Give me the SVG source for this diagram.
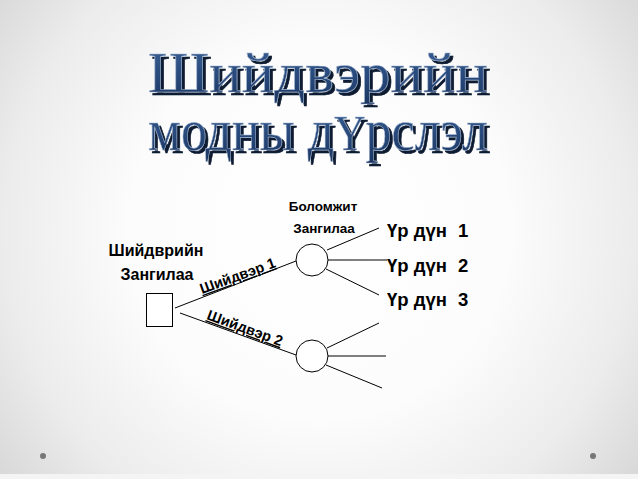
<svg xmlns="http://www.w3.org/2000/svg" width="638" height="479" viewBox="0 0 638 479">
<defs>
  <radialGradient id="bg" cx="319" cy="230" r="420" gradientUnits="userSpaceOnUse">
    <stop offset="0" stop-color="#ffffff"/>
    <stop offset="0.45" stop-color="#fcfcfc"/>
    <stop offset="0.75" stop-color="#ececec"/>
    <stop offset="1" stop-color="#d4d4d4"/>
  </radialGradient>
  <linearGradient id="tg" x1="0" y1="0" x2="0" y2="1">
    <stop offset="0" stop-color="#3d6398"/>
    <stop offset="0.5" stop-color="#2a4c7e"/>
    <stop offset="1" stop-color="#1c3560"/>
  </linearGradient>
  <filter id="sh" x="-5%" y="-10%" width="110%" height="130%">
    <feOffset in="SourceAlpha" dx="2.5" dy="2.5" result="o"/>
    <feFlood flood-color="#0e1b30"/>
    <feComposite in2="o" operator="in" result="s"/>
    <feMerge><feMergeNode in="s"/><feMergeNode in="SourceGraphic"/></feMerge>
  </filter>
</defs>
<style>
  .title { font-family: "Liberation Serif", "Times New Roman", serif; text-anchor: middle; fill: url(#tg); stroke: #9fb3d1; stroke-width: 0.6; }
  .lbl { font-family: "Liberation Sans", Arial, sans-serif; font-weight: bold; fill: #000; }
  .ln { stroke: #000; stroke-width: 1; fill: none; }
  .shape { fill: #fff; stroke: #000; stroke-width: 1; }
</style>
<rect x="0" y="0" width="638" height="479" fill="url(#bg)"/>
<rect x="0" y="474" width="638" height="5" fill="#f4f4f4"/>
<circle cx="43" cy="456" r="3" fill="#777"/>
<circle cx="593" cy="456" r="3" fill="#777"/>

<g id="title" filter="url(#sh)">
  <text class="title" x="318" y="92" font-size="58" textLength="340" lengthAdjust="spacingAndGlyphs">Шийдвэрийн</text>
  <text class="title" x="318" y="150" font-size="60" textLength="340" lengthAdjust="spacingAndGlyphs">модны д<tspan font-size="50">Ү</tspan>рслэл</text>
</g>

<g id="connectors">
  <line class="ln" x1="175" y1="308" x2="296" y2="261"/>
  <line class="ln" x1="180" y1="313" x2="296" y2="355"/>
  <line class="ln" x1="327" y1="250" x2="379" y2="228"/>
  <line class="ln" x1="328" y1="260" x2="387" y2="260"/>
  <line class="ln" x1="326" y1="269" x2="379" y2="295"/>
  <line class="ln" x1="327" y1="348" x2="379" y2="323"/>
  <line class="ln" x1="328" y1="356" x2="386" y2="356"/>
  <line class="ln" x1="326" y1="365" x2="382" y2="388"/>
</g>

<g id="decision-node">
  <rect class="shape" x="146.5" y="293.5" width="26" height="33"/>
  <text class="lbl" x="156" y="256" font-size="16" text-anchor="middle">Шийдврийн</text>
  <text class="lbl" x="157" y="280" font-size="16" text-anchor="middle">Зангилаа</text>
</g>

<g id="chance-node-1">
  <circle class="shape" cx="312" cy="260" r="16"/>
  <text class="lbl" x="323" y="211" font-size="13.5" text-anchor="middle">Боломжит</text>
  <text class="lbl" x="324" y="233" font-size="13.5" text-anchor="middle">Зангилаа</text>
</g>

<g id="chance-node-2">
  <circle class="shape" cx="312" cy="356" r="16"/>
</g>

<g id="edge-labels">
  <text class="lbl" font-size="14.5" text-decoration="underline" transform="translate(202,294) rotate(-20)">Шийдвэр 1</text>
  <text class="lbl" font-size="14.5" text-decoration="underline" transform="translate(206,319) rotate(20)">Шийдвэр 2</text>
</g>

<g id="outcomes">
  <text class="lbl" x="387" y="237" font-size="18.5">Үр дүн<tspan x="458">1</tspan></text>
  <text class="lbl" x="387" y="272" font-size="18.5">Үр дүн<tspan x="458">2</tspan></text>
  <text class="lbl" x="387" y="306" font-size="18.5">Үр дүн<tspan x="458">3</tspan></text>
</g>
</svg>
